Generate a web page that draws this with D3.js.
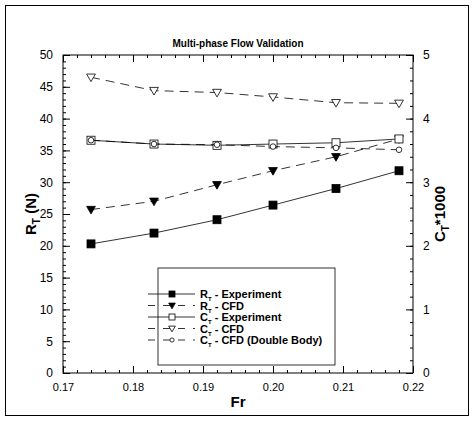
<!DOCTYPE html><html><head><script src="https://cdn.jsdelivr.net/npm/d3@7"></script>
<style>body{margin:0;background:#fff}text{font-family:"Liberation Sans",Arial,sans-serif;font-weight:bold}</style></head><body>
<svg id="c" width="474" height="422"></svg>
<script>
const fr=[0.174,0.183,0.192,0.2,0.209,0.218];
const rtExp=[20.3,22.0,24.1,26.4,29.0,31.8];
const rtCfd=[25.7,27.0,29.6,31.8,34.0,36.8];
const ctExp=[3.66,3.60,3.58,3.60,3.62,3.68];
const ctCfd=[4.65,4.44,4.41,4.34,4.25,4.24];
const ctDb=[3.66,3.60,3.59,3.56,3.54,3.51];
const svg=d3.select("#c");
svg.append("rect").attr("x",5.5).attr("y",5.5).attr("width",463).attr("height",410).attr("fill","none").attr("stroke","#000");
const L=63,R=413,T=55,B=373;
const x=d3.scaleLinear().domain([0.17,0.22]).range([L,R]);
const yl=d3.scaleLinear().domain([0,50]).range([B,T]);
const yr=d3.scaleLinear().domain([0,5]).range([B,T]);
svg.append("rect").attr("x",L).attr("y",T).attr("width",R-L).attr("height",B-T).attr("fill","none").attr("stroke","#000");
const g=svg.append("g");
function tk(a,f,s){a.selectAll("path").remove();a.selectAll("line").attr("stroke","#000");a.selectAll("text").style("font-size",s+"px").style("font-weight","normal");}
g.append("g").attr("transform",`translate(0,${B})`).call(d3.axisBottom(x).tickValues(d3.range(0.17,0.2201,0.002)).tickSize(-3).tickFormat("")).call(a=>tk(a));
g.append("g").attr("transform",`translate(0,${B})`).call(d3.axisBottom(x).tickValues([0.17,0.18,0.19,0.2,0.21,0.22]).tickSize(-7).tickPadding(10).tickFormat(d3.format(".2f"))).call(a=>tk(a,0,11));
g.append("g").attr("transform",`translate(0,${T})`).call(d3.axisTop(x).tickValues(d3.range(0.17,0.2201,0.002)).tickSize(-3).tickFormat("")).call(a=>tk(a));
g.append("g").attr("transform",`translate(0,${T})`).call(d3.axisTop(x).tickValues([0.17,0.18,0.19,0.2,0.21,0.22]).tickSize(-7).tickFormat("")).call(a=>tk(a));
g.append("g").attr("transform",`translate(${L},0)`).call(d3.axisLeft(yl).tickValues(d3.range(0,51,1)).tickSize(-3).tickFormat("")).call(a=>tk(a));
g.append("g").attr("transform",`translate(${L},0)`).call(d3.axisLeft(yl).tickValues(d3.range(0,51,5)).tickSize(-7).tickPadding(10)).call(a=>tk(a,0,12));
g.append("g").attr("transform",`translate(${R},0)`).call(d3.axisRight(yr).tickValues(d3.range(0,5.01,0.2)).tickSize(-3).tickFormat("")).call(a=>tk(a));
g.append("g").attr("transform",`translate(${R},0)`).call(d3.axisRight(yr).tickValues(d3.range(0,6,1)).tickSize(-7).tickPadding(10).tickFormat(d3.format("d"))).call(a=>tk(a,0,12));
svg.append("text").attr("x",238).attr("y",47).attr("text-anchor","middle").style("font-size","10px").text("Multi-phase Flow Validation");
svg.append("text").attr("x",238).attr("y",407).attr("text-anchor","middle").style("font-size","15px").text("Fr");
const yt=svg.append("text").attr("transform","translate(36,214) rotate(-90)").attr("text-anchor","middle").style("font-size","15px");
yt.append("tspan").text("R");yt.append("tspan").attr("dy",4).style("font-size","10px").text("T");yt.append("tspan").attr("dy",-4).text(" (N)");
const yt2=svg.append("text").attr("transform","translate(445,214) rotate(-90)").attr("text-anchor","middle").style("font-size","15px");
yt2.append("tspan").text("C");yt2.append("tspan").attr("dy",4).style("font-size","10px").text("T");yt2.append("tspan").attr("dy",-4).text("*1000");
const series=[
 {v:rtExp,s:yl,dash:null,m:"sq",fill:"#000",name:"Experiment",sym:"R"},
 {v:rtCfd,s:yl,dash:"9,6",m:"tri",fill:"#000",name:"CFD",sym:"R"},
 {v:ctExp,s:yr,dash:null,m:"sq",fill:"none",name:"Experiment",sym:"C"},
 {v:ctCfd,s:yr,dash:"9,6",m:"tri",fill:"none",name:"CFD",sym:"C"},
 {v:ctDb,s:yr,dash:"9,6",m:"ci",fill:"none",name:"CFD (Double Body)",sym:"C"}];
function marker(sel,m,fill,cx,cy,sz){
 if(m==="sq")sel.append("rect").attr("x",cx-sz).attr("y",cy-sz).attr("width",2*sz).attr("height",2*sz).attr("fill",fill==="none"?"#fff":fill).attr("stroke","#000").attr("stroke-width",0.8);
 else if(m==="tri")sel.append("path").attr("d",`M${cx-sz*1.1},${cy-sz*0.8}L${cx+sz*1.1},${cy-sz*0.8}L${cx},${cy+sz*1.1}Z`).attr("fill",fill==="none"?"#fff":fill).attr("stroke","#000").attr("stroke-width",0.8);
 else sel.append("circle").attr("cx",cx).attr("cy",cy).attr("r",sz*0.7).attr("fill","#fff").attr("stroke","#000").attr("stroke-width",0.8);
}
series.forEach(se=>{
 const line=d3.line().x((d,i)=>x(fr[i])).y(d=>se.s(d));
 g.append("path").attr("d",line(se.v)).attr("fill","none").attr("stroke","#000").attr("stroke-width",0.8).attr("stroke-dasharray",se.dash);
 se.v.forEach((d,i)=>marker(g,se.m,se.fill,x(fr[i]),se.s(d),4));
});
svg.append("rect").attr("x",158).attr("y",268).attr("width",177).attr("height",97).attr("fill","#fff").attr("stroke","#000").attr("stroke-width",0.8);
series.forEach((se,i)=>{
 const yy=294+i*11.5;
 svg.append("line").attr("x1",148).attr("x2",195).attr("y1",yy).attr("y2",yy).attr("stroke","#000").attr("stroke-width",0.8).attr("stroke-dasharray",se.dash?"7,8":null);
 marker(svg,se.m,se.fill,172,yy,3);
 const t=svg.append("text").attr("x",200).attr("y",yy+4).style("font-size","11px");
 t.append("tspan").text(se.sym);t.append("tspan").attr("dy",3).style("font-size","6px").text("T");t.append("tspan").attr("dy",-3).text(" - "+se.name);
});
</script></body></html>
